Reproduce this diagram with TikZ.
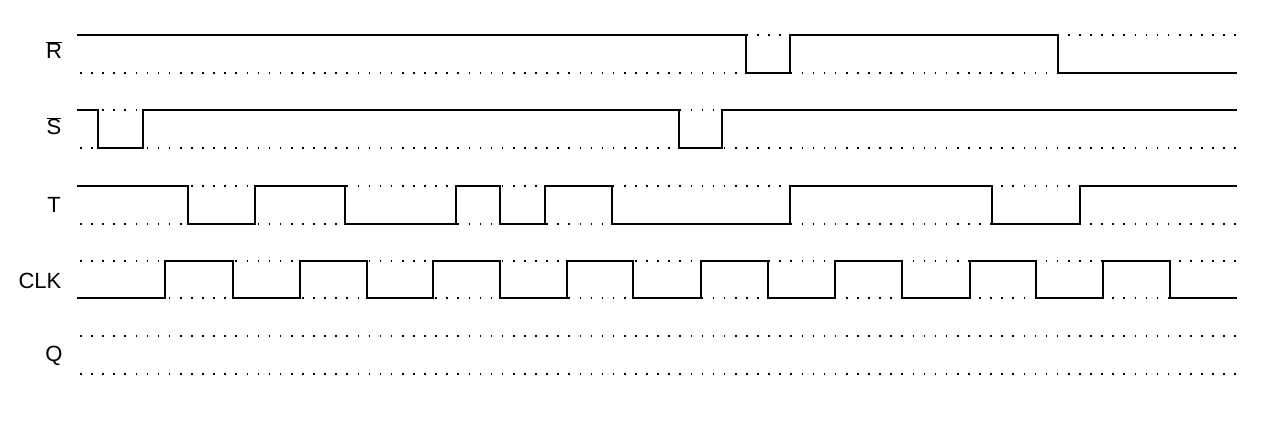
\documentclass[tikz,border=0pt]{standalone}
\usepackage{fontspec}
\setmainfont{Liberation Sans}
\begin{document}
\begin{tikzpicture}[x=1pt,y=-1pt,
  sig/.style={line width=1.4pt,black},
  grid/.style={line width=1.6pt,dash pattern=on 1.6pt off 9.5pt,black},
  lbl/.style={font=\fontsize{22}{22}\selectfont,anchor=center}]
\useasboundingbox (0,0) rectangle (1288,431);
% dotted reference levels
\foreach \y in {35,73,110,148,186,224,261,298,336,374}
  \draw[grid] (80,\y) -- (1237,\y);
% labels
\node[lbl] (lr) at (54,50) {$\overline{\hbox{R}}$};
\node[lbl] (ls) at (54,126) {$\overline{\hbox{S}}$};
\node[lbl] (lt) at (54,205) {T};
\node[lbl] (lc) at (40,281) {CLK};
\node[lbl] (lq) at (54,356) {Q};
% R
\draw[sig] (77,35) -- (746,35) -- (746,73) -- (790,73) -- (790,35) -- (1058,35) -- (1058,73) -- (1237,73);
% S
\draw[sig] (77,110) -- (98,110) -- (98,148) -- (143,148) -- (143,110) -- (679,110) -- (679,148) -- (722,148) -- (722,110) -- (1237,110);
% T
\draw[sig] (77,186) -- (188,186) -- (188,224) -- (255,224) -- (255,186) -- (345,186) -- (345,224) -- (456,224) -- (456,186) -- (500,186) -- (500,224) -- (545,224) -- (545,186) -- (612,186) -- (612,224) -- (790,224) -- (790,186) -- (992,186) -- (992,224) -- (1080,224) -- (1080,186) -- (1237,186);
% CLK
\draw[sig] (77,298) -- (165,298) -- (165,261) -- (233,261) -- (233,298) -- (300,298) -- (300,261) -- (367,261) -- (367,298) -- (433,298) -- (433,261) -- (500,261) -- (500,298) -- (567,298) -- (567,261) -- (633,261) -- (633,298) -- (701,298) -- (701,261) -- (768,261) -- (768,298) -- (835,298) -- (835,261) -- (902,261) -- (902,298) -- (970,298) -- (970,261) -- (1036,261) -- (1036,298) -- (1103,298) -- (1103,261) -- (1170,261) -- (1170,298) -- (1237,298);
\end{tikzpicture}
\end{document}
